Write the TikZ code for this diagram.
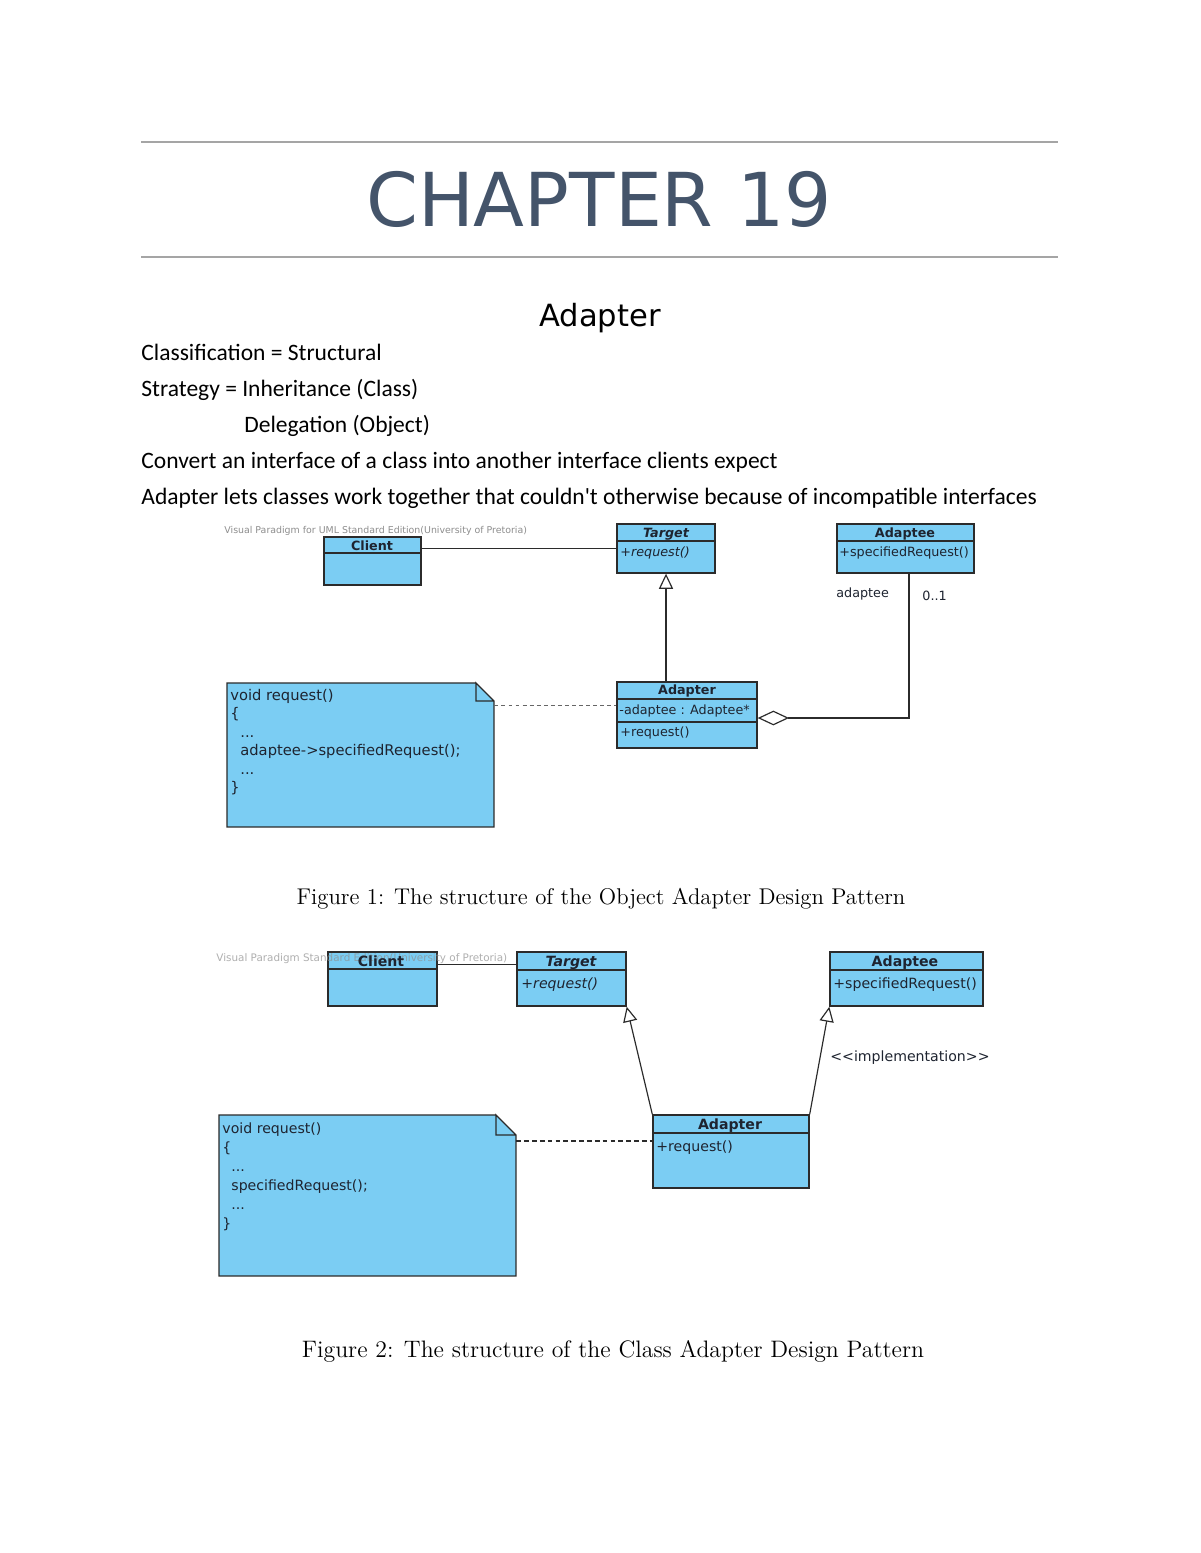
\documentclass[tikz,border=0pt]{standalone}
\usepackage{fontspec}
\newfontfamily\dvfont{DejaVu Sans}
\newfontfamily\calfont{Carlito}
\usetikzlibrary{fit,arrows.meta,calc}
\definecolor{vpblue}{HTML}{7BCDF3}
\definecolor{headc}{HTML}{44546A}
\definecolor{rulec}{HTML}{A5A5A5}
\definecolor{boxc}{HTML}{2B2B2B}
\definecolor{wmc}{HTML}{8E8E8E}
\definecolor{umltxt}{HTML}{1E2430}
\newcommand\umlA{\dvfont\fontsize{6.5}{8}\selectfont}
\newcommand\umlB{\dvfont\fontsize{7.2}{9}\selectfont}
\newcommand\noteA{\dvfont\fontsize{7.5}{9}\selectfont}
\newcommand\bodyfont{\calfont\fontsize{12}{14}\selectfont}
\begin{document}
\begin{tikzpicture}[x=0.51pt,y=-0.51pt,
  cls/.style={draw=boxc, fill=vpblue, line width=0.7pt, inner sep=0pt, fit={#1}},
  notebox/.style={fill=vpblue, inner sep=0pt, fit={#1}},
  sepline/.style={draw=boxc, line width=0.7pt},
  txt/.style={inner sep=0pt, anchor=base west},
  ctxt/.style={inner sep=0pt, anchor=base},
  conn/.style={draw=boxc, line width=0.6pt},
  wm/.style={inner sep=0pt, anchor=base west, text=wmc},
  inh/.style={-{Triangle[open, length=7.7pt, width=7.2pt]}},
]
\useasboundingbox (0,0) rectangle (1200,1553);
\fill[white] (0,0) rectangle (1200,1553);

% ---------- heading ----------
\draw[rulec, line width=1.5pt] (141,142) -- (1058,142);
\draw[rulec, line width=1.5pt] (141,257) -- (1058,257);
\node[ctxt, text=headc, font=\dvfont\fontsize{37.9}{40}\selectfont] (chap) at (599,226) {CHAPTER 19};
\node[ctxt, font=\dvfont\fontsize{15.6}{18}\selectfont] (title) at (600,326) {Adapter};

\node[txt, font=\bodyfont] (l1) at (141,360) {Classification = Structural};
\node[txt, font=\bodyfont] (l2) at (141,396) {Strategy = Inheritance (Class)};
\node[txt, font=\bodyfont] (l3) at (244,432) {Delegation (Object)};
\node[txt, font=\bodyfont] (l4) at (141,468) {Convert an interface of a class into another interface clients expect};
\node[txt, font=\bodyfont] (l5) at (141,504) {Adapter lets classes work together that couldn't otherwise because of incompatible interfaces};

% ---------- figure 1 ----------
\node[wm, font=\dvfont\fontsize{4.8}{5.5}\selectfont] (wm1) at (224,533) {Visual Paradigm for UML Standard Edition(University of Pretoria)};

\node[cls={(324,537)(421,585)}] (client1) {};
\draw[sepline] (324,553) -- (421,553);
\node[ctxt, font=\umlA\bfseries, text=umltxt] (client1t) at (372,550) {Client};

\node[cls={(617,524)(715,573)}] (target1) {};
\draw[sepline] (617,541) -- (715,541);
\node[ctxt, font=\umlA\bfseries\itshape, text=umltxt] (target1t) at (666,537) {Target};
\node[txt, font=\umlA\itshape, text=umltxt] (target1o) at (620,556) {+request()};

\node[cls={(837,524)(974,573)}] (adaptee1) {};
\draw[sepline] (837,541) -- (974,541);
\node[ctxt, font=\umlA\bfseries, text=umltxt] (adaptee1t) at (905,537) {Adaptee};
\node[txt, font=\umlA, text=umltxt] (adaptee1o) at (839,556) {+specifiedRequest()};

\node[cls={(617,682)(757,748)}] (adapter1) {};
\draw[sepline] (617,699) -- (757,699);
\draw[sepline] (617,722) -- (757,722);
\node[ctxt, font=\umlA\bfseries, text=umltxt] (adapter1t) at (687,694.5) {Adapter};
\node[txt, font=\umlA, text=umltxt] (adapter1a) at (619,714.5) {-adaptee : Adaptee*};
\node[txt, font=\umlA, text=umltxt] (adapter1o) at (620,736.5) {+request()};

% connectors fig 1
\draw[conn] (client1.east |- target1.west) -- (target1.west);
\draw[conn, inh] (target1.south |- adapter1.north) -- (target1.south);
\coordinate (aggc) at (909,718);
\draw[conn, {Diamond[open, length=16pt, width=7.5pt]}-] (adapter1.east |- aggc) -- (aggc) -- (aggc |- adaptee1.south);
\node[txt, font=\umlA, text=umltxt] (rolelab) at (836,597) {adaptee};
\node[txt, font=\umlA, text=umltxt] (multlab) at (922,600) {0..1};

% note 1
\node[notebox={(227,683)(494,827)}] (note1) {};
\fill[white] (475,682) -- (495.5,682) -- (495.5,702) -- cycle;
\draw[boxc, line width=0.7pt] (476,683) -- (227,683) -- (227,827) -- (494,827) -- (494,701) -- (476,683) -- (476,701) -- (494,701);
\node[txt, font=\noteA, text=umltxt] (n1a) at (230,700) {void request()};
\node[txt, font=\noteA, text=umltxt] (n1b) at (230,718.5) {\{};
\node[txt, font=\noteA, text=umltxt] (n1c) at (240,737) {...};
\node[txt, font=\noteA, text=umltxt] (n1d) at (240,755.5) {adaptee->specifiedRequest();};
\node[txt, font=\noteA, text=umltxt] (n1e) at (240,774) {...};
\node[txt, font=\noteA, text=umltxt] (n1f) at (230,792.5) {\}};
\coordinate (n1p) at ($(note1.north east)+(0,23)$);
\draw[gray!80!black, line width=0.5pt, dash pattern=on 2pt off 1.6pt] (n1p) -- (adapter1.west |- n1p);

\node[ctxt, font=\fontsize{11.6}{14}\selectfont] (cap1) at (601,904) {Figure 1: The structure of the Object Adapter Design Pattern};

% ---------- figure 2 ----------
\node[cls={(328,952)(437,1006)}] (client2) {};
\draw[sepline] (328,969) -- (437,969);
\node[cls={(517,952)(626,1006)}] (target2) {};
\draw[sepline] (517,970) -- (626,970);
\node[cls={(830,952)(983,1006)}] (adaptee2) {};
\draw[sepline] (830,970) -- (983,970);
\node[cls={(653,1115)(809,1188)}] (adapter2) {};
\draw[sepline] (653,1133) -- (809,1133);

\node[wm, font=\dvfont\fontsize{5.3}{6}\selectfont, opacity=0.7] (wm2) at (216,961) {Visual Paradigm Standard Edition(University of Pretoria)};

\node[ctxt, font=\umlB\bfseries, text=umltxt] (client2t) at (381,966) {Client};
\node[ctxt, font=\umlB\bfseries\itshape, text=umltxt] (target2t) at (571,966) {Target};
\node[txt, font=\umlB\itshape, text=umltxt] (target2o) at (521,988) {+request()};
\node[ctxt, font=\umlB\bfseries, text=umltxt] (adaptee2t) at (905,966) {Adaptee};
\node[txt, font=\umlB, text=umltxt] (adaptee2o) at (833,988) {+specifiedRequest()};
\node[ctxt, font=\umlB\bfseries, text=umltxt] (adapter2t) at (730,1129) {Adapter};
\node[txt, font=\umlB, text=umltxt] (adapter2o) at (656,1151) {+request()};

% connectors fig 2
\coordinate (c2p) at ($(client2.north east)+(0,13)$);
\draw[conn] (c2p) -- (target2.west |- c2p);
\draw[conn, inh] (adapter2.north west) -- (target2.south east);
\draw[conn, inh] (adapter2.north east) -- (adaptee2.south west);
\node[txt, font=\umlB, text=umltxt] (implab) at (830,1061) {<{}<implementation>{}>};

% note 2
\node[notebox={(219,1115)(516,1276)}] (note2) {};
\fill[white] (495,1114) -- (517.5,1114) -- (517.5,1136) -- cycle;
\draw[boxc, line width=0.7pt] (496,1115) -- (219,1115) -- (219,1276) -- (516,1276) -- (516,1135) -- (496,1115) -- (496,1135) -- (516,1135);
\node[txt, font=\umlB, text=umltxt] (n2a) at (222,1133) {void request()};
\node[txt, font=\umlB, text=umltxt] (n2b) at (222,1152) {\{};
\node[txt, font=\umlB, text=umltxt] (n2c) at (231,1171) {...};
\node[txt, font=\umlB, text=umltxt] (n2d) at (231,1190) {specifiedRequest();};
\node[txt, font=\umlB, text=umltxt] (n2e) at (231,1209) {...};
\node[txt, font=\umlB, text=umltxt] (n2f) at (222,1228) {\}};
\coordinate (n2p) at ($(note2.north east)+(0,26)$);
\draw[boxc, line width=0.9pt, dash pattern=on 2.4pt off 1.6pt] (n2p) -- (adapter2.west |- n2p);

\node[ctxt, font=\fontsize{12.15}{14}\selectfont] (cap2) at (613,1357) {Figure 2: The structure of the Class Adapter Design Pattern};
\end{tikzpicture}
\end{document}
